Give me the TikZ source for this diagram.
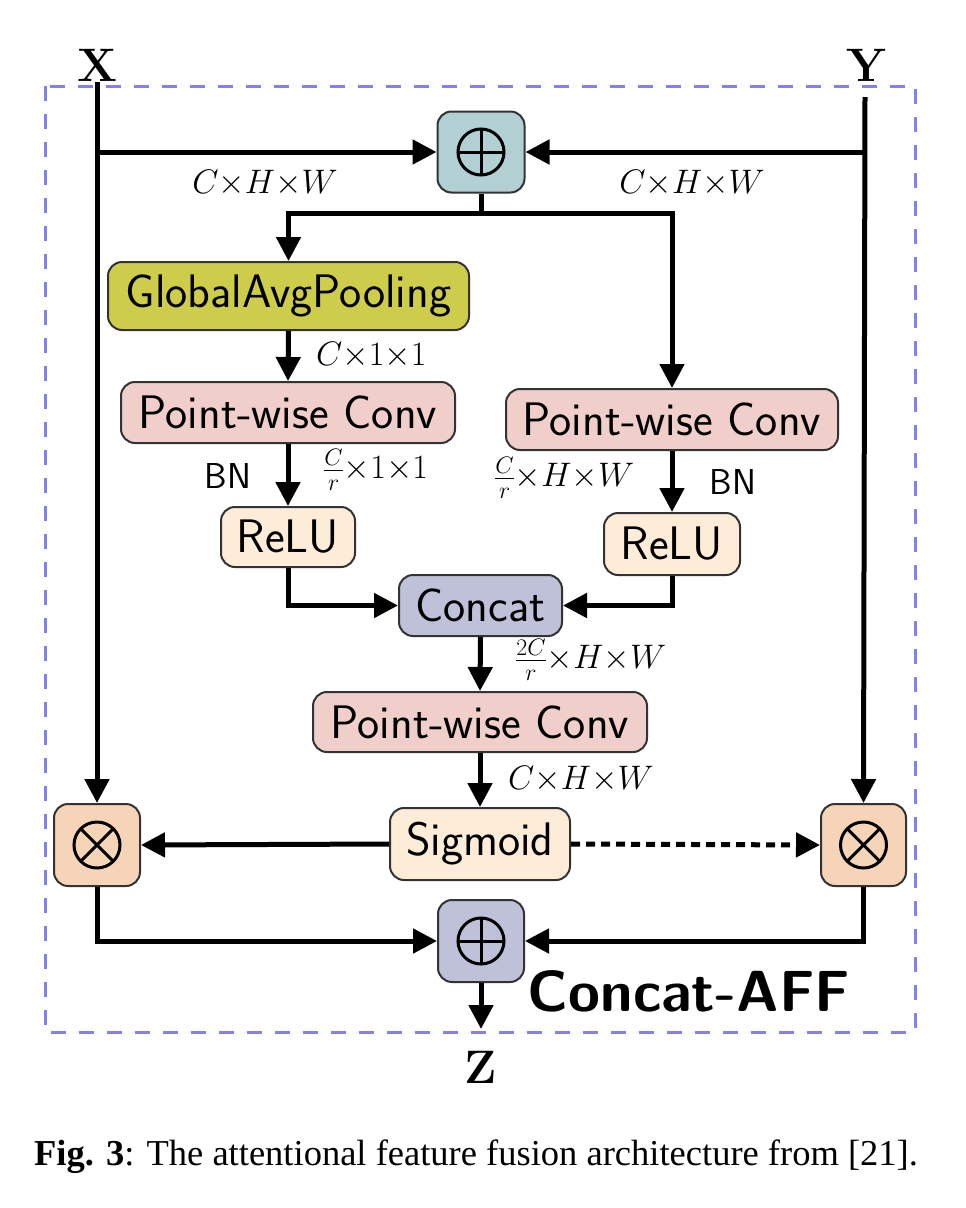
\RequirePackage{fix-cm}
\documentclass[tikz,border=0pt]{standalone}
\usepackage{fontspec}
\newfontfamily\capfont{Liberation Serif}
\usetikzlibrary{arrows.meta}
\definecolor{plustop}{RGB}{178,207,212}
\definecolor{gapcol}{RGB}{205,205,75}
\definecolor{pwcol}{RGB}{240,206,201}
\definecolor{relucol}{RGB}{253,236,216}
\definecolor{concol}{RGB}{190,193,216}
\definecolor{mulcol}{RGB}{246,212,184}
\definecolor{framecol}{RGB}{130,130,238}
\tikzset{
  blk/.style={draw=black!80, line width=2pt, rounded corners=14pt, inner sep=0pt,
    font=\fontsize{47}{54}\sffamily},
  arr/.style={line width=5pt, -{Triangle[length=24pt,width=24pt]}},
  ln/.style={line width=5pt},
  sym/.style={line width=3pt},
  dimlab/.style={font=\fontsize{34}{40}\selectfont, inner sep=0pt},
  bnlab/.style={font=\fontsize{36}{42}\sffamily, inner sep=0pt},
  io/.style={font=\fontsize{47}{54}\rmfamily\bfseries, inner sep=0pt},
}
\begin{document}
\begin{tikzpicture}[x=1pt,y=-1pt]
\useasboundingbox (0,0) rectangle (966,1208);
% frame
\draw[framecol, line width=3pt, dash pattern=on 15pt off 13pt] (45,86) rectangle (915,1032);
% nodes
\node[blk, fill=plustop, minimum width=87pt, minimum height=81pt] (plusT) at (481,152) {};
\node[blk, fill=gapcol, minimum width=361pt, minimum height=68pt] (gap) at (288.5,296) {GlobalAvgPooling};
\node[blk, fill=pwcol, minimum width=334pt, minimum height=61pt] (pw1) at (288,412.5) {Point-wise Conv};
\node[blk, fill=relucol, minimum width=134pt, minimum height=60pt] (relu1) at (288,537) {ReLU};
\node[blk, fill=pwcol, minimum width=332pt, minimum height=61pt] (pw2) at (672,419.5) {Point-wise Conv};
\node[blk, fill=relucol, minimum width=136pt, minimum height=62pt] (relu2) at (672,544) {ReLU};
\node[blk, fill=concol, minimum width=163pt, minimum height=61pt] (concat) at (480.5,605.5) {Concat};
\node[blk, fill=pwcol, minimum width=334pt, minimum height=60pt] (pw3) at (480,722) {Point-wise Conv};
\node[blk, fill=relucol, minimum width=180pt, minimum height=72pt] (sig) at (480,844) {Sigmoid};
\node[blk, fill=mulcol, minimum width=86pt, minimum height=82pt] (mulL) at (97,845) {};
\node[blk, fill=mulcol, minimum width=85pt, minimum height=82pt] (mulR) at (863.5,845) {};
\node[blk, fill=concol, minimum width=86pt, minimum height=82pt] (plusB) at (481,941) {};
% symbols
\foreach \n in {plusT,plusB}{
  \draw[sym] (\n.center) circle[radius=23pt];
  \draw[sym] ([xshift=-23pt]\n.center) -- ([xshift=23pt]\n.center);
  \draw[sym] ([yshift=-23pt]\n.center) -- ([yshift=23pt]\n.center);
}
\foreach \n in {mulL,mulR}{
  \draw[sym] (\n.center) circle[radius=23pt];
  \draw[sym] ([shift={(-16.3pt,-16.3pt)}]\n.center) -- ([shift={(16.3pt,16.3pt)}]\n.center);
  \draw[sym] ([shift={(-16.3pt,16.3pt)}]\n.center) -- ([shift={(16.3pt,-16.3pt)}]\n.center);
}
% io labels
\node[io] (X) at (97,65) {X};
\node[io] (Y) at (866,65) {Y};
\node[io] (Z) at (481,1067) {Z};
\coordinate (xtop) at (97,82);
\coordinate (ytop) at (865,97);
\coordinate (split) at (481,213);
\coordinate (zend) at (481,1029);
% connectors
\draw[arr] (xtop) -- (mulL.north);
\draw[arr] (ytop) -- (mulR.north);
\draw[arr] (xtop |- plusT.west) -- (plusT.west);
\draw[arr] (ytop |- plusT.east) -- (plusT.east);
\draw[ln] (plusT.south) -- (split);
\draw[arr] (split) -| (gap.north);
\draw[arr] (split) -| (pw2.north);
\draw[arr] (gap.south) -- (pw1.north);
\draw[arr] (pw1.south) -- (relu1.north);
\draw[arr] (pw2.south) -- (relu2.north);
\draw[arr] (relu1.south) |- (concat.west);
\draw[arr] (relu2.south) |- (concat.east);
\draw[arr] (concat.south) -- (pw3.north);
\draw[arr] (pw3.south) -- (sig.north);
\draw[arr] (sig.west) -- (mulL.east);
\draw[arr, dash pattern=on 9pt off 6pt] (sig.east) -- (mulR.west);
\draw[arr] (mulL.south) |- (plusB.west);
\draw[arr] (mulR.south) |- (plusB.east);
\draw[arr] (plusB.south) -- (zend);
% dimension labels
\node[dimlab] (l1) at (265,183) {$C{\times}H{\times}W$};
\node[dimlab] (l2) at (692,183) {$C{\times}H{\times}W$};
\node[dimlab, anchor=west] (l3) at (316,355) {$C{\times}1{\times}1$};
\node[bnlab] (bn1) at (228,476) {BN};
\node[dimlab, anchor=west] (l4) at (323,470) {$\frac{C}{r}{\times}1{\times}1$};
\node[dimlab, anchor=west] (l5) at (494,478) {$\frac{C}{r}{\times}H{\times}W$};
\node[bnlab] (bn2) at (733,482) {BN};
\node[dimlab, anchor=west] (l6) at (515,660) {$\frac{2C}{r}{\times}H{\times}W$};
\node[dimlab, anchor=west] (l7) at (508,779) {$C{\times}H{\times}W$};
\node[font=\fontsize{58}{64}\sffamily\bfseries, inner sep=0pt] (title) at (689,991) {Concat-AFF};
% caption
\node[font=\fontsize{36.5}{42}\capfont, inner sep=0pt] (cap) at (476,1157) {\textbf{Fig. 3}: The attentional feature fusion architecture from [21].};
\end{tikzpicture}
\end{document}
